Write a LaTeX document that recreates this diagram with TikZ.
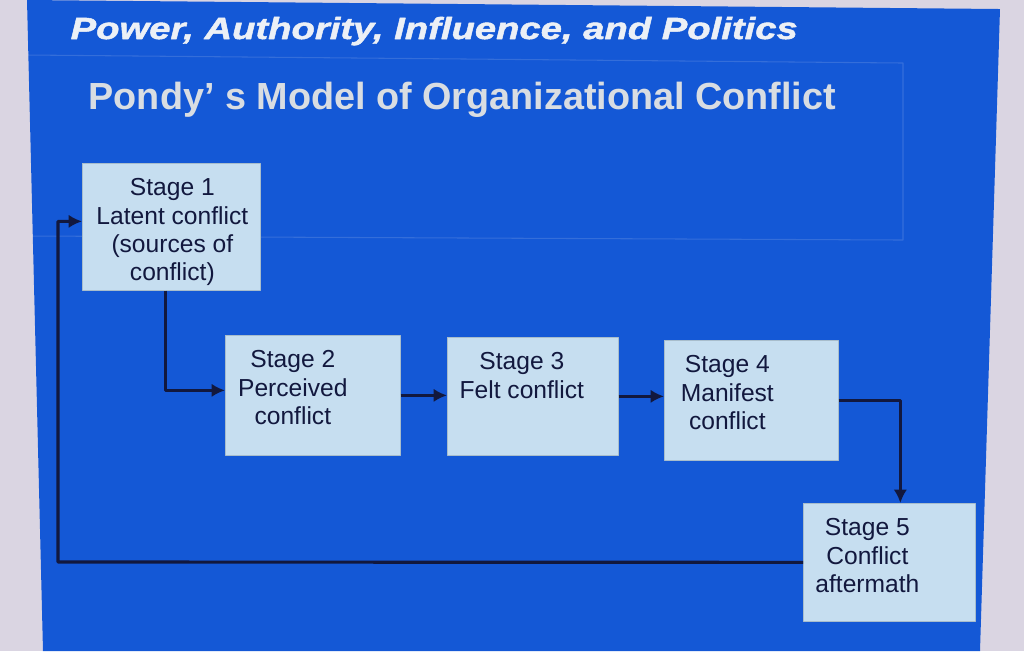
\documentclass[tikz,border=0pt]{standalone}
\usepackage{fontspec}
\setmainfont{Liberation Sans}
\newfontfamily\titlefont[FakeStretch=1.25, BoldItalicFeatures={FakeBold=1.6}]{Liberation Sans}
\usetikzlibrary{arrows.meta,positioning,calc}
\definecolor{slideblue}{RGB}{20,88,214}
\definecolor{wallgray}{RGB}{218,213,226}
\definecolor{boxfill}{RGB}{198,222,240}
\definecolor{inkblue}{RGB}{18,24,62}
\definecolor{titlewhite}{RGB}{236,240,246}
\newcommand \mystage[6]
{
\node[stagebox, minimum width=#3cm, minimum height=#4cm] (#1) at (#2) {};
\node[stagetext] (#1t) at ($(#1.north)+(#5,-0.15)$) {#6};
}

\begin{document}
\begin{tikzpicture}[line join=round,
  stagebox/.style={anchor=north west, fill=boxfill, draw=boxfill!85!black, line width=0.2pt, inner sep=0pt},
  stagetext/.style={anchor=north, inner sep=0pt, align=center, text=inkblue, font=\fontsize{7}{8}\selectfont},
  flow/.style={->, line width=0.9pt, draw=inkblue},
  >={Latex[length=3.8pt,width=3.8pt]}]
\useasboundingbox (0,0) rectangle (10.24,-6.51);
\fill[wallgray] (0,0) rectangle (10.24,-6.51);
\fill[slideblue] (0.27,0) -- (10.00,-0.09) -- (9.80,-6.51) -- (0.43,-6.51) -- cycle;
\draw[titlewhite, opacity=0.15, line width=0.3pt] (0.28,-0.55) -- (9.03,-0.63) -- (9.03,-2.40) -- (0.31,-2.36);

\node[anchor=base west, inner sep=0pt, text=titlewhite, font={\titlefont\fontsize{8.7}{10}\selectfont\bfseries\itshape}] (title) at (0.70,-0.39) {Power, Authority, Influence, and Politics};
\node[anchor=base west, inner sep=0pt, text=titlewhite!92!black, font={\fontsize{10.75}{12}\selectfont\bfseries}] (subtitle) at (0.88,-1.09) {Pondy’ s Model of Organizational Conflict};

\mystage{s1}{0.82,-1.63}{1.78}{1.27}{0.01}{Stage 1\\Latent conflict\\(sources of\\conflict)}
\mystage{s2}{2.25,-3.35}{1.75}{1.20}{-0.20}{Stage 2\\Perceived\\conflict}
\mystage{s3}{4.47,-3.37}{1.71}{1.18}{-0.11}{Stage 3\\Felt conflict}
\mystage{s4}{6.64,-3.40}{1.74}{1.20}{-0.24}{Stage 4\\Manifest\\conflict}
\mystage{s5}{8.03,-5.03}{1.72}{1.18}{-0.22}{Stage 5\\Conflict\\aftermath}
\coordinate (back) at (0.58,-5.62);

\draw[flow] ([xshift=-0.06cm]s1.south) |- ([yshift=0.05cm]s2.west);
\draw[flow] (s2.east) -- (s2.east -| s3.west);
\draw[flow] (s3.east) -- (s3.east -| s4.west);
\draw[flow] (s4.east) -| ([xshift=0.11cm]s5.north);
\draw[flow] (s5.west) -- (back) |- ([yshift=0.055cm]s1.west);
\end{tikzpicture}
\end{document}
